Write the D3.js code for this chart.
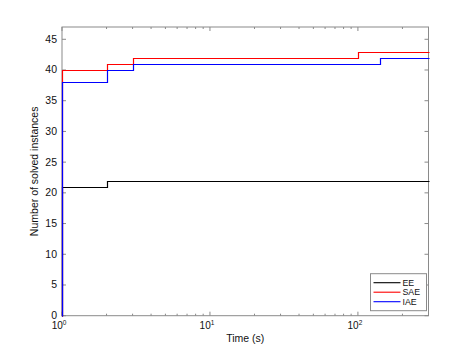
<!DOCTYPE html>
<html>
<head>
<meta charset="utf-8">
<script src="https://cdnjs.cloudflare.com/ajax/libs/d3/7.8.5/d3.min.js"></script>
<style>
  body { margin: 0; background: #fff; }
  svg { font-family: "Liberation Sans", Arial, sans-serif; }
</style>
</head>
<body>
<div id="chart"></div>
<script>
// step points: time (s) and count of solved instances
const eeTimes  = [1, 1, 2, 300];
const eeVals   = [0, 21, 22, 22];
const saeTimes = [1, 1, 2, 3, 100, 300];
const saeVals  = [0, 40, 41, 42, 43, 43];
const iaeTimes = [1, 1, 2, 3, 140, 300];
const iaeVals  = [0, 38, 40, 41, 42, 42];

const seriesNames  = ["EE", "SAE", "IAE"];
const seriesColors = ["#000000", "#ff0000", "#0000ff"];
const yTicks = [0, 5, 10, 15, 20, 25, 30, 35, 40, 45];
const xDecades = [1, 10, 100];

const W = 474, H = 355;
const margin = { top: 27, right: 45.5, bottom: 39.3, left: 62 };
const width = W - margin.left - margin.right;
const height = H - margin.top - margin.bottom;

const svg = d3.select("#chart").append("svg")
  .attr("width", W)
  .attr("height", H);

const g = svg.append("g")
  .attr("transform", `translate(${margin.left},${margin.top})`);

const x = d3.scaleLog().domain([1, 300]).range([0, width]);
const y = d3.scaleLinear().domain([0, 47]).range([height, 0]);

const axisColor = "#8a8a8a";

// minor ticks on the log axis
const minor = [];
for (let d = 1; d <= 100; d *= 10) {
  for (let k = 2; k <= 9; k++) {
    if (d * k <= 300) minor.push(d * k);
  }
}

// box
g.append("rect")
  .attr("width", width)
  .attr("height", height)
  .attr("fill", "none")
  .attr("stroke", axisColor)
  .attr("stroke-width", 1);

// x ticks (bottom and top, pointing inward)
xDecades.forEach(v => {
  [[height, -4], [0, 4]].forEach(([y0, len]) => {
    g.append("line")
      .attr("x1", x(v)).attr("x2", x(v))
      .attr("y1", y0).attr("y2", y0 + len)
      .attr("stroke", axisColor);
  });
});
minor.forEach(v => {
  [[height, -2], [0, 2]].forEach(([y0, len]) => {
    g.append("line")
      .attr("x1", x(v)).attr("x2", x(v))
      .attr("y1", y0).attr("y2", y0 + len)
      .attr("stroke", axisColor);
  });
});

// y ticks (left and right)
yTicks.forEach(v => {
  [[0, 4], [width, -4]].forEach(([x0, len]) => {
    g.append("line")
      .attr("x1", x0).attr("x2", x0 + len)
      .attr("y1", y(v)).attr("y2", y(v))
      .attr("stroke", axisColor);
  });
  g.append("text")
    .attr("x", -5)
    .attr("y", y(v) + 3.5)
    .attr("text-anchor", "end")
    .style("font-size", "10.5px")
    .attr("fill", "#111")
    .text(v);
});

// x tick labels 10^n
xDecades.forEach(v => {
  const t = g.append("text")
    .attr("x", x(v) - 3)
    .attr("y", height + 13)
    .attr("text-anchor", "middle")
    .style("font-size", "10px")
    .attr("fill", "#111");
  t.append("tspan").text("10");
  t.append("tspan")
    .attr("dy", -4)
    .style("font-size", "6.5px")
    .text(Math.round(Math.log10(v)));
});

// axis labels
g.append("text")
  .attr("x", width / 2)
  .attr("y", height + 26)
  .attr("text-anchor", "middle")
  .style("font-size", "10.5px")
  .attr("fill", "#111")
  .text("Time (s)");

g.append("text")
  .attr("transform", `translate(${-24},${height / 2}) rotate(-90)`)
  .attr("text-anchor", "middle")
  .style("font-size", "10.5px")
  .attr("fill", "#111")
  .text("Number of solved instances");

// step lines
const seriesData = [
  eeTimes.map((t, i) => [t, eeVals[i]]),
  saeTimes.map((t, i) => [t, saeVals[i]]),
  iaeTimes.map((t, i) => [t, iaeVals[i]])
];

// snap to pixel centres so the thin lines stay crisp
const line = d3.line()
  .curve(d3.curveStepAfter)
  .x(d => Math.round(x(d[0])) + 0.5)
  .y(d => Math.round(y(d[1]) + margin.top) - margin.top + 0.5);

seriesData.forEach((data, i) => {
  g.append("path")
    .datum(data)
    .attr("fill", "none")
    .attr("stroke", seriesColors[i])
    .attr("stroke-width", 1.2)
    .attr("d", line);
});

// legend
const lg = g.append("g")
  .attr("transform", `translate(${width - 58},${height - 42})`);
lg.append("rect")
  .attr("width", 56)
  .attr("height", 37)
  .attr("fill", "#fff")
  .attr("stroke", axisColor);
seriesNames.forEach((name, i) => {
  const yy = 9 + i * 9.5;
  lg.append("line")
    .attr("x1", 3).attr("x2", 30)
    .attr("y1", yy).attr("y2", yy)
    .attr("stroke", seriesColors[i])
    .attr("stroke-width", 1.1);
  lg.append("text")
    .attr("x", 32)
    .attr("y", yy + 3.1)
    .style("font-size", "8.8px")
    .attr("fill", "#111")
    .text(name);
});
</script>
</body>
</html>
